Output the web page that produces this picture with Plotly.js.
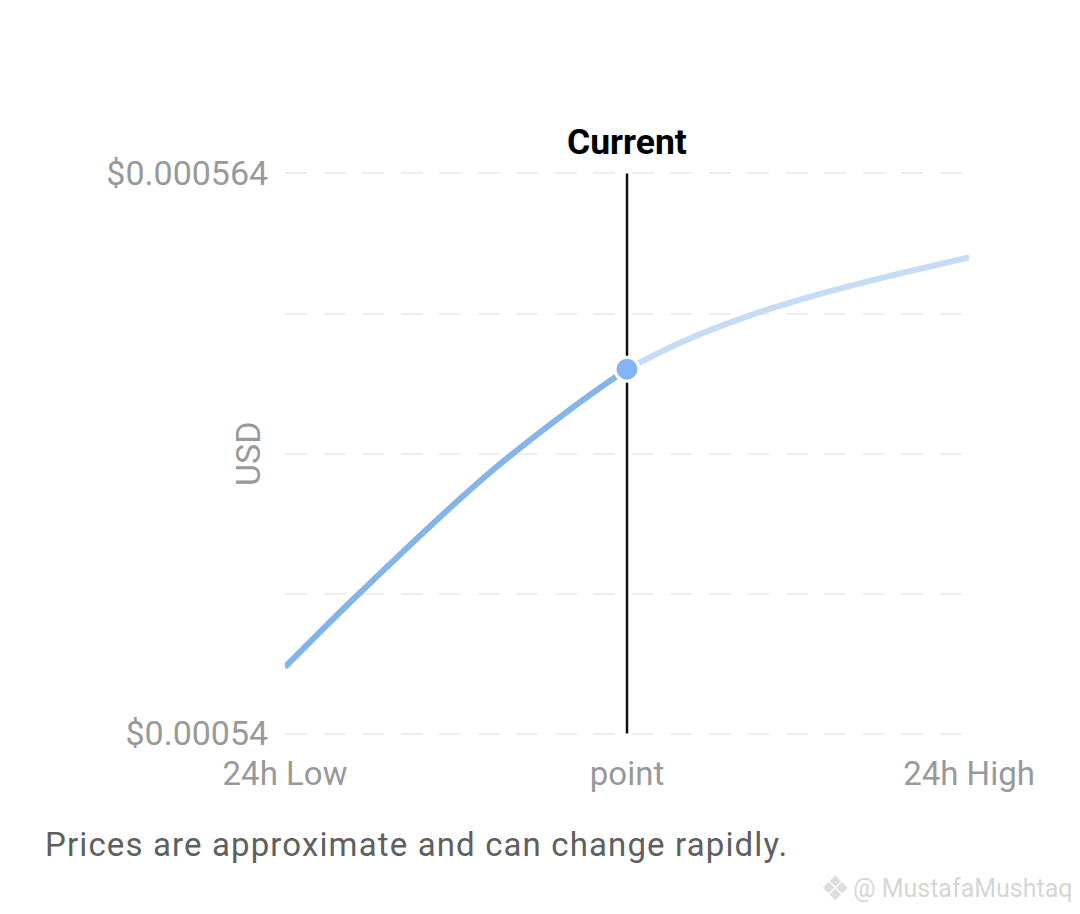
<!DOCTYPE html>
<html><head><meta charset="utf-8">
<script src="https://cdn.plot.ly/plotly-3.0.1.min.js"></script>
<style>html,body{margin:0;padding:0;background:#fff}#c{width:1080px;height:914px}</style>
</head><body><div id="c"></div>
<script>
const xTickVals = [0, 50, 100];
const xTickText = ['24h Low', 'point', '24h High'];
const yTickVals = [0.00054, 0.000546, 0.000552, 0.000558, 0.000564];
const yTickText = ['$0.00054', '', '', '', '$0.000564'];
const pastX = [0, 10.96, 29.53, 43.13, 50];
const pastY = [0.000542845, 0.000546032, 0.00055108, 0.000554203, 0.000555615];
const futureX = [50, 58, 68, 78, 88, 100];
const futureY = [0.000555615, 0.00055678, 0.00055792, 0.00055882, 0.00055958, 0.000560406];
const currentX = [50, 50];
const currentY = [0.00054, 0.000564];
const pointX = [50];
const pointY = [0.000555615];

const FONT = 'Roboto, sans-serif';
const px = p => (p - 285) / 684;
const py = p => (735.5 - p) / 564;
const traces = [
  {x: currentX, y: currentY, mode: 'lines', line: {color: '#111111', width: 2.5}, cliponaxis: false, hoverinfo: 'skip'},
  {x: futureX, y: futureY, mode: 'lines', line: {color: '#c6dcf6', width: 6, shape: 'spline', smoothing: 1}, cliponaxis: false, hoverinfo: 'skip'},
  {x: pastX, y: pastY, mode: 'lines', line: {color: '#84b4ea', width: 6, shape: 'spline', smoothing: 1}, cliponaxis: false, hoverinfo: 'skip'},
  {x: pointX, y: pointY, mode: 'markers', marker: {color: '#82b4f6', size: 24, line: {color: '#ffffff', width: 3}}, cliponaxis: false, hoverinfo: 'skip'}
];
const layout = {
  width: 1080, height: 914,
  margin: {l: 285, r: 111, t: 171.5, b: 178.5, pad: 0},
  paper_bgcolor: '#ffffff', plot_bgcolor: '#ffffff',
  showlegend: false,
  font: {family: FONT},
  xaxis: {
    range: [0, 100], tickmode: 'array', tickvals: xTickVals, ticktext: xTickText,
    showgrid: false, zeroline: false, showline: false, ticks: 'outside', ticklen: 9, tickcolor: 'rgba(0,0,0,0)',
    tickfont: {family: FONT, size: 33, color: '#999999'}
  },
  yaxis: {
    range: [0.000539936, 0.000564064], tickmode: 'array', tickvals: yTickVals, ticktext: yTickText,
    showgrid: true, gridcolor: '#eeeeee', gridwidth: 2, griddash: '22px,16.5px',
    zeroline: false, showline: false, ticks: 'outside', ticklen: 9, tickcolor: 'rgba(0,0,0,0)',
    tickfont: {family: FONT, size: 34, color: '#999999'}
  },
  annotations: [
    {xref: 'x', yref: 'paper', x: 50, y: py(141), yanchor: 'middle', showarrow: false, text: '<b>Current</b>', font: {family: FONT, size: 35.5, color: '#000000'}},
    {xref: 'paper', yref: 'paper', x: px(248), xanchor: 'center', y: py(454), yanchor: 'middle', showarrow: false, textangle: -90, text: 'USD', font: {family: FONT, size: 34, color: '#999999'}},
    {xref: 'paper', yref: 'paper', x: px(46), xanchor: 'left', y: py(845), yanchor: 'middle', xshift: -3, showarrow: false, text: '<span style="letter-spacing:1.13px">Prices are approximate and can change rapidly.</span>', font: {family: FONT, size: 33, color: '#5f5f5f'}},
    {xref: 'paper', yref: 'paper', x: px(1075), xanchor: 'right', y: py(889), yanchor: 'middle', showarrow: false, text: '@ MustafaMushtaq', font: {family: FONT, size: 25, color: '#d6d6d6'}},
    {xref: 'paper', yref: 'paper', x: px(835), xanchor: 'center', y: py(889), yanchor: 'middle', showarrow: false, text: '❖', font: {family: 'DejaVu Sans', size: 34, color: '#dedede'}}
  ]
};
Plotly.newPlot('c', traces, layout, {displayModeBar: false, staticPlot: true});
</script></body></html>
